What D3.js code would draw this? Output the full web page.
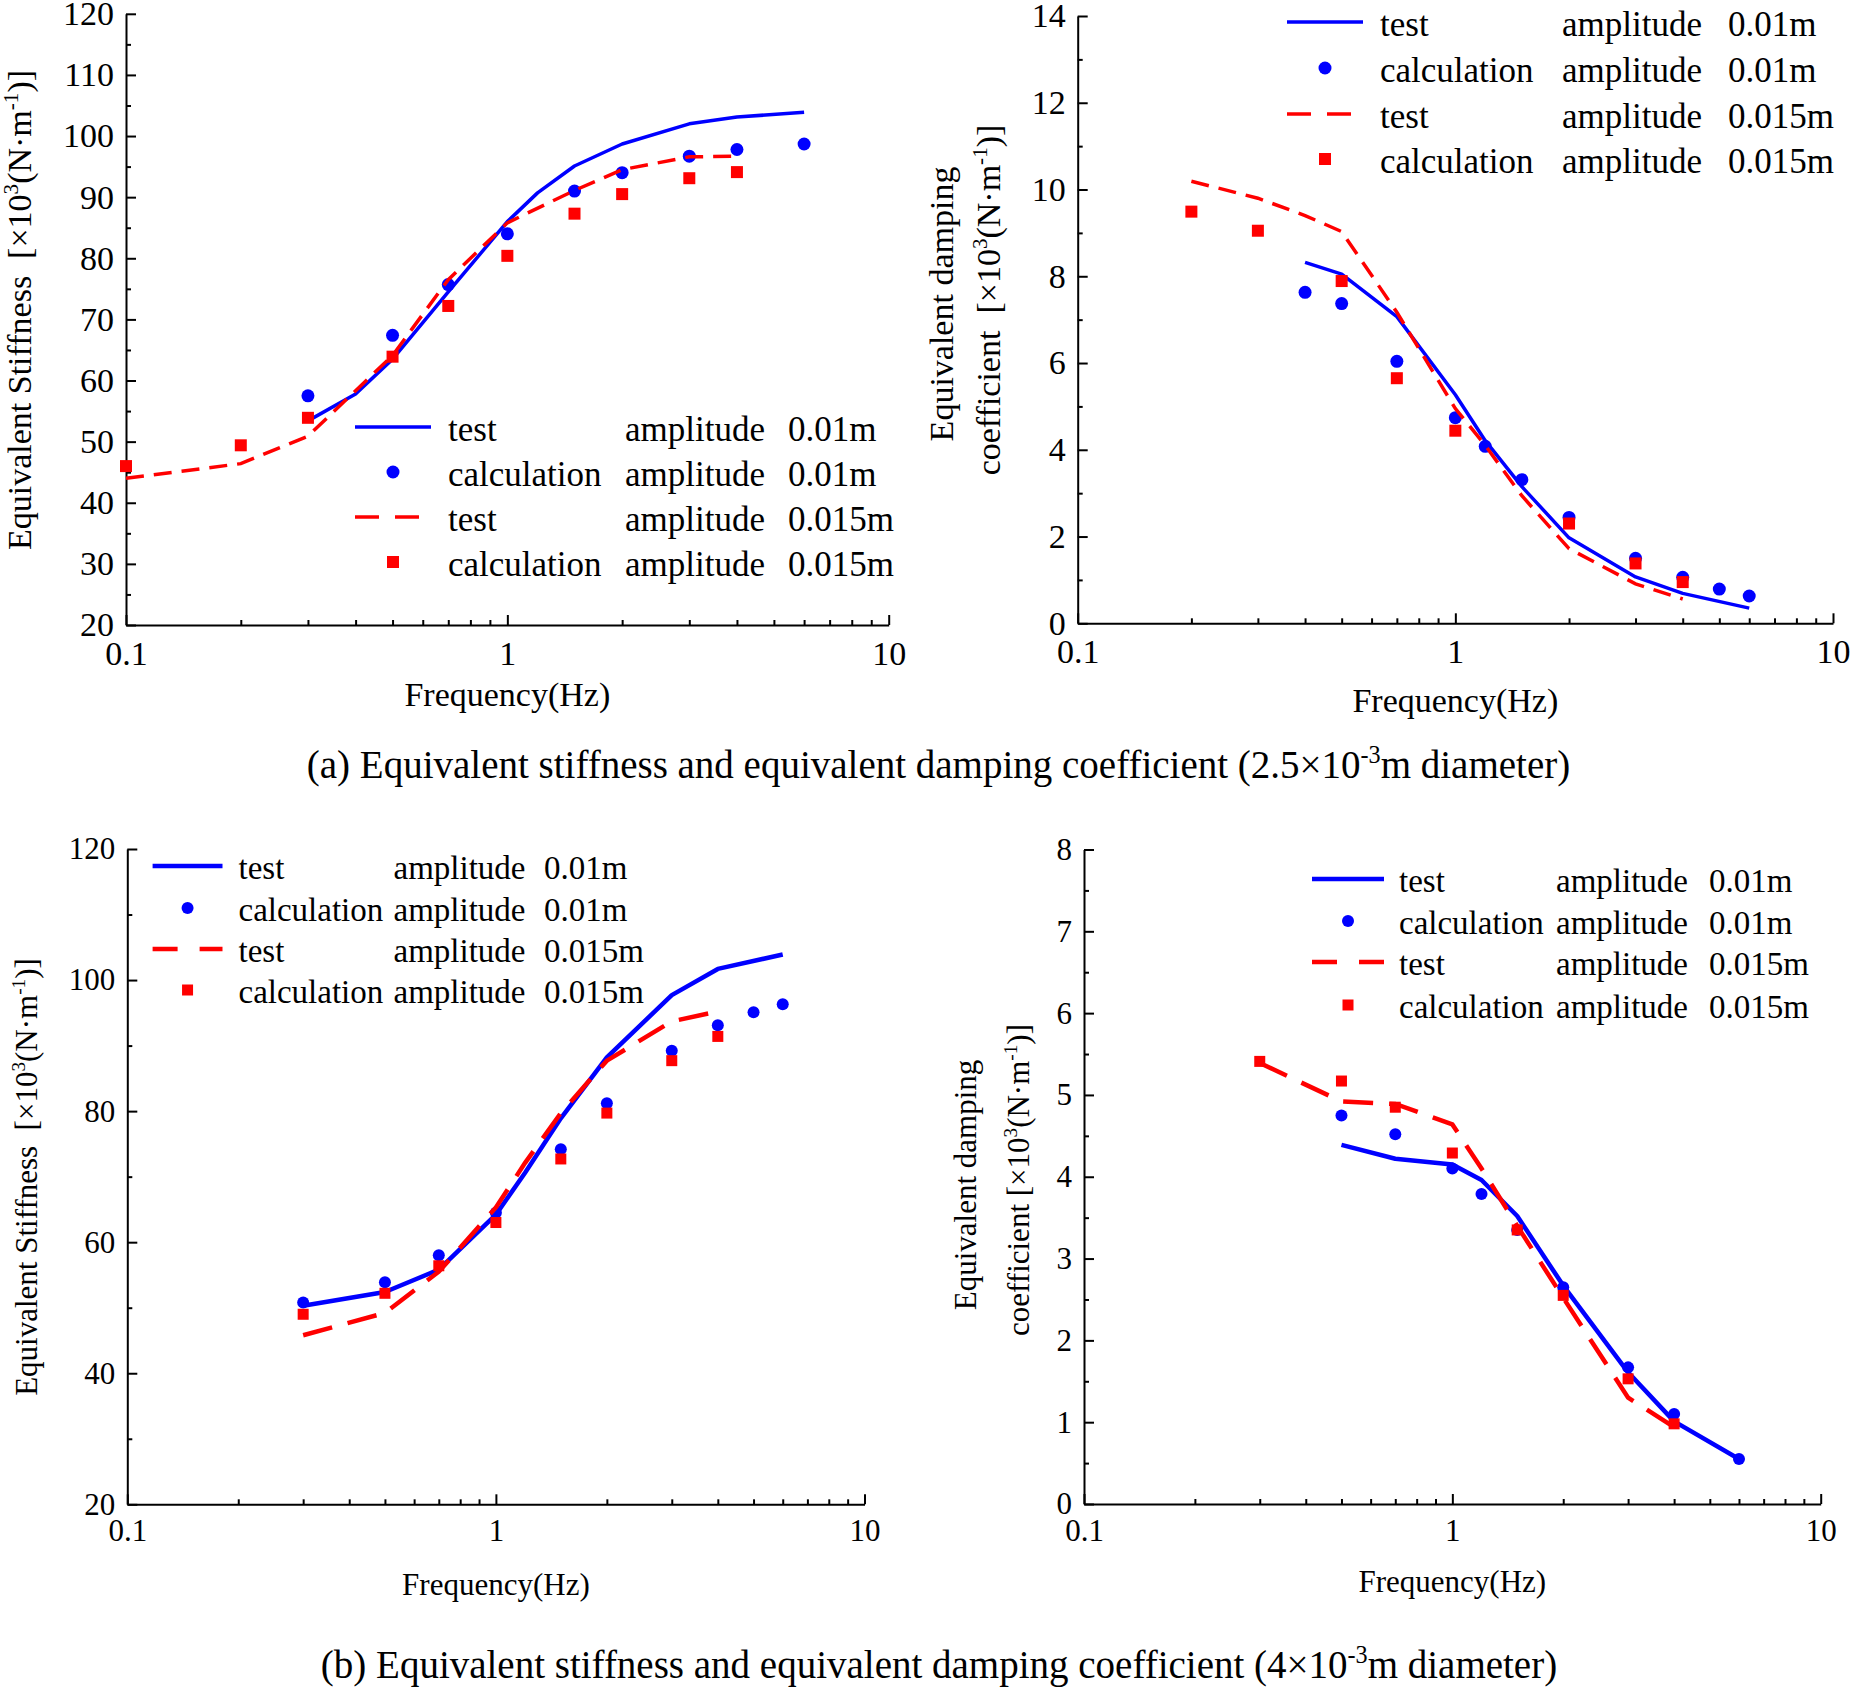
<!DOCTYPE html>
<html>
<head>
<meta charset="utf-8">
<script src="https://cdn.jsdelivr.net/npm/d3@7"></script>
<style>
  body { margin: 0; background: #fff; }
  svg { display: block; }
</style>
</head>
<body>
<div class="canvas"></div>
<script>
/**
 * Data
 */
const xMajorTicks = [0.1, 1, 10]
const xMinorTicks = [0.2, 0.3, 0.4, 0.5, 0.6, 0.7, 0.8, 0.9, 2, 3, 4, 5, 6, 7, 8, 9]

const legendKind = ["test", "calculation", "test", "calculation"]
const legendAmp = ["0.01m", "0.01m", "0.015m", "0.015m"]

// (a) stiffness, 2.5e-3 m
const aK_test01_f = [0.3, 0.4, 0.5, 0.7, 1, 1.2, 1.5, 2, 3, 4, 6]
const aK_test01 = [53.4, 57.8, 63.5, 74.5, 86.0, 90.7, 95.1, 98.7, 102.0, 103.1, 103.9]
const aK_calc01_f = [0.3, 0.5, 0.7, 1, 1.5, 2, 3, 4, 6]
const aK_calc01 = [57.5, 67.4, 75.7, 84.0, 91.0, 94.0, 96.7, 97.8, 98.7]
const aK_test015_f = [0.1, 0.2, 0.3, 0.5, 0.7, 1, 1.5, 2, 3, 4]
const aK_test015 = [44.0, 46.4, 50.9, 64.1, 76.5, 85.8, 91.1, 94.5, 96.6, 96.7]
const aK_calc015_f = [0.1, 0.2, 0.3, 0.5, 0.7, 1, 1.5, 2, 3, 4]
const aK_calc015 = [46.0, 49.4, 53.9, 63.9, 72.2, 80.4, 87.3, 90.5, 93.1, 94.1]

// (a) damping, 2.5e-3 m
const aC_test01_f = [0.4, 0.5, 0.7, 1, 1.2, 1.5, 2, 3, 4, 6]
const aC_test01 = [8.32, 8.05, 7.07, 5.27, 4.21, 3.15, 1.97, 1.07, 0.69, 0.35]
const aC_calc01_f = [0.4, 0.5, 0.7, 1, 1.2, 1.5, 2, 3, 4, 5, 6]
const aC_calc01 = [7.63, 7.37, 6.04, 4.74, 4.08, 3.31, 2.44, 1.50, 1.06, 0.79, 0.63]
const aC_test015_f = [0.2, 0.3, 0.4, 0.5, 0.7, 1, 1.2, 1.5, 2, 3, 4]
const aC_test015 = [10.19, 9.80, 9.40, 9.03, 7.17, 4.95, 4.10, 2.94, 1.72, 0.91, 0.56]
const aC_calc015_f = [0.2, 0.3, 0.5, 0.7, 1, 2, 3, 4]
const aC_calc015 = [9.49, 9.05, 7.89, 5.65, 4.44, 2.30, 1.38, 0.95]

// (b) stiffness, 4e-3 m
const bK_test01_f = [0.3, 0.5, 0.7, 1, 1.2, 1.5, 2, 3, 4, 6]
const bK_test01 = [50.3, 52.4, 55.8, 64.2, 70.6, 78.9, 88.2, 97.7, 101.7, 103.9]
const bK_calc01_f = [0.3, 0.5, 0.7, 1, 1.5, 2, 3, 4, 5, 6]
const bK_calc01 = [50.8, 53.9, 58.0, 64.5, 74.2, 81.2, 89.2, 93.1, 95.1, 96.3]
const bK_test015_f = [0.3, 0.5, 0.7, 1, 1.2, 1.5, 2, 3, 4]
const bK_test015 = [45.8, 49.2, 55.5, 65.3, 72.1, 79.7, 87.7, 93.7, 95.2]
const bK_calc015_f = [0.3, 0.5, 0.7, 1, 1.5, 2, 3, 4]
const bK_calc015 = [49.0, 52.2, 56.4, 63.0, 72.7, 79.7, 87.7, 91.4]

// (b) damping, 4e-3 m
const bC_test01_f = [0.5, 0.7, 1, 1.2, 1.5, 2, 3, 4, 6]
const bC_test01 = [4.39, 4.22, 4.15, 3.96, 3.52, 2.67, 1.61, 1.01, 0.55]
const bC_calc01_f = [0.5, 0.7, 1, 1.2, 1.5, 2, 3, 4, 6]
const bC_calc01 = [4.75, 4.52, 4.10, 3.79, 3.35, 2.65, 1.67, 1.10, 0.55]
const bC_test015_f = [0.3, 0.5, 0.7, 1, 1.2, 1.5, 2, 3, 4]
const bC_test015 = [5.39, 4.92, 4.89, 4.64, 4.10, 3.40, 2.52, 1.30, 0.94]
const bC_calc015_f = [0.3, 0.5, 0.7, 1, 1.5, 2, 3, 4]
const bC_calc015 = [5.41, 5.17, 4.85, 4.29, 3.35, 2.55, 1.53, 0.98]

/**
 * Page
 */
const FONT = '"Liberation Serif", "Times New Roman", serif'
const BLUE = "#0000ff"
const RED = "#ff0000"

const svg = d3.select(".canvas")
    .append("svg")
    .attr("width", 1850)
    .attr("height", 1689)
    .style("font-family", FONT)

// write text with superscript parts: parts = [[str, isSup], ...]
const richText = (sel, parts, fs) => {
    let up = false
    parts.forEach(([s, sup]) => {
        const t = sel.append("tspan").text(s)
        if (sup && !up) { t.attr("dy", -fs * 0.38).attr("font-size", fs * 0.62); up = true }
        else if (sup) { t.attr("font-size", fs * 0.62) }
        else if (up) { t.attr("dy", fs * 0.38); up = false }
    })
}

const unitParts = [["[×10", false], ["3", true], ["(N·m", false], ["-1", true], [")]", false]]

/**
 * One panel
 */
const drawPanel = (p) => {
    const x = d3.scaleLog().domain([0.1, 10]).range([p.left, p.right])
    const y = d3.scaleLinear().domain(p.yDomain).range([p.bottom, p.top])
    const g = svg.append("g")

    // minor ticks first, then major with labels
    g.append("g")
        .attr("transform", `translate(0,${p.bottom})`)
        .call(d3.axisBottom(x).tickValues(xMinorTicks).tickSizeInner(-5).tickSizeOuter(0).tickFormat(""))
        .call(s => s.select(".domain").remove())
    g.append("g")
        .attr("transform", `translate(${p.left},0)`)
        .call(d3.axisLeft(y).tickValues(p.yMinor).tickSizeInner(-5).tickSizeOuter(0).tickFormat(""))
        .call(s => s.select(".domain").remove())

    const xAxis = g.append("g")
        .attr("transform", `translate(0,${p.bottom})`)
        .call(d3.axisBottom(x).tickValues(xMajorTicks).tickSizeInner(-10).tickSizeOuter(0)
            .tickPadding(p.xPad).tickFormat(d => d))
    const yAxis = g.append("g")
        .attr("transform", `translate(${p.left},0)`)
        .call(d3.axisLeft(y).tickValues(p.yMajor).tickSizeInner(-10).tickSizeOuter(0)
            .tickPadding(12).tickFormat(d => d))

    ;[xAxis, yAxis].forEach(a => {
        a.attr("font-family", FONT).attr("font-size", p.tickFs)
        a.selectAll("line, path").attr("stroke", "#000").attr("stroke-width", 2)
        a.selectAll("text").attr("fill", "#000")
    })
    g.selectAll("line").attr("stroke-width", 2)

    // axis titles
    g.append("text")
        .attr("x", (p.left + p.right) / 2)
        .attr("y", p.xTitleY)
        .attr("text-anchor", "middle")
        .attr("font-size", p.titleFs)
        .text("Frequency(Hz)")

    p.yTitle.forEach(t => {
        const txt = g.append("text")
            .attr("transform", `translate(${t.x},${t.cy}) rotate(-90)`)
            .attr("text-anchor", "middle")
            .attr("font-size", p.titleFs)
        richText(txt, t.parts, p.titleFs)
    })

    // series
    const line = d3.line().x(d => x(d[0])).y(d => y(d[1]))
    const [s1, s2, s3, s4] = p.series

    g.append("path")
        .attr("d", line(d3.zip(s1.f, s1.v)))
        .attr("fill", "none").attr("stroke", BLUE).attr("stroke-width", p.lw)
        .attr("stroke-linejoin", "round")
    g.selectAll(".dot")
        .data(d3.zip(s2.f, s2.v))
        .enter().append("circle")
        .attr("cx", d => x(d[0])).attr("cy", d => y(d[1]))
        .attr("r", p.dotR).attr("fill", BLUE)
    g.append("path")
        .attr("d", line(d3.zip(s3.f, s3.v)))
        .attr("fill", "none").attr("stroke", RED).attr("stroke-width", p.lw)
        .attr("stroke-dasharray", p.dash)
    g.selectAll(".sq")
        .data(d3.zip(s4.f, s4.v))
        .enter().append("rect")
        .attr("x", d => x(d[0]) - p.sq / 2).attr("y", d => y(d[1]) - p.sq / 2)
        .attr("width", p.sq).attr("height", p.sq).attr("fill", RED)

    // legend
    const L = p.legend
    legendKind.forEach((k, i) => {
        const cy = L.rows[i]
        if (i === 0 || i === 2) {
            g.append("line")
                .attr("x1", L.x0).attr("x2", L.x1).attr("y1", cy).attr("y2", cy)
                .attr("stroke", i === 0 ? BLUE : RED).attr("stroke-width", p.lw)
                .attr("stroke-dasharray", i === 2 ? L.dash : null)
        } else if (i === 1) {
            g.append("circle").attr("cx", (L.x0 + L.x1) / 2).attr("cy", cy)
                .attr("r", p.dotR).attr("fill", BLUE)
        } else {
            g.append("rect").attr("x", (L.x0 + L.x1) / 2 - p.sq / 2).attr("y", cy - p.sq / 2)
                .attr("width", p.sq).attr("height", p.sq).attr("fill", RED)
        }
        const by = cy + L.base
        g.append("text").attr("x", L.tx).attr("y", by).attr("font-size", L.fs).text(k)
        g.append("text").attr("x", L.ax).attr("y", by).attr("font-size", L.fs).text("amplitude")
        g.append("text").attr("x", L.vx).attr("y", by).attr("font-size", L.fs).text(legendAmp[i])
    })
}

/**
 * Panels
 */
drawPanel({
    left: 126, right: 888.7, bottom: 625, top: 13.8,
    yDomain: [20, 120], yMajor: d3.range(20, 121, 10), yMinor: d3.range(25, 120, 10),
    tickFs: 34, titleFs: 34, xPad: 16, xTitleY: 706, lw: 3.5, dotR: 6.5, sq: 12, dash: "18,10",
    yTitle: [{x: 31, cy: 310, parts: [["Equivalent Stiffness\u00a0\u00a0", false]].concat(unitParts)}],
    series: [
        {f: aK_test01_f, v: aK_test01}, {f: aK_calc01_f, v: aK_calc01},
        {f: aK_test015_f, v: aK_test015}, {f: aK_calc015_f, v: aK_calc015}],
    legend: {x0: 355, x1: 431, rows: [427, 472, 517, 562], base: 14, fs: 35,
        tx: 448, ax: 625, vx: 788, dash: "24,16"}
})

drawPanel({
    left: 1077.7, right: 1833, bottom: 623.3, top: 16,
    yDomain: [0, 14], yMajor: d3.range(0, 15, 2), yMinor: d3.range(1, 14, 2),
    tickFs: 34, titleFs: 34, xPad: 16, xTitleY: 712, lw: 3.5, dotR: 6.5, sq: 12, dash: "18,10",
    yTitle: [
        {x: 953, cy: 304, parts: [["Equivalent damping", false]]},
        {x: 1000, cy: 300, parts: [["coefficient\u00a0\u00a0", false]].concat(unitParts)}],
    series: [
        {f: aC_test01_f, v: aC_test01}, {f: aC_calc01_f, v: aC_calc01},
        {f: aC_test015_f, v: aC_test015}, {f: aC_calc015_f, v: aC_calc015}],
    legend: {x0: 1287, x1: 1363, rows: [22, 68, 114, 159], base: 14, fs: 35,
        tx: 1380, ax: 1562, vx: 1728, dash: "24,16"}
})

drawPanel({
    left: 127.3, right: 864.5, bottom: 1504.3, top: 849,
    yDomain: [20, 120], yMajor: d3.range(20, 121, 20), yMinor: d3.range(30, 120, 20),
    tickFs: 31, titleFs: 31, xPad: 15, xTitleY: 1595, lw: 4.5, dotR: 6, sq: 11, dash: "30,16",
    yTitle: [{x: 37, cy: 1177, parts: [["Equivalent Stiffness\u00a0\u00a0", false]].concat(unitParts)}],
    series: [
        {f: bK_test01_f, v: bK_test01}, {f: bK_calc01_f, v: bK_calc01},
        {f: bK_test015_f, v: bK_test015}, {f: bK_calc015_f, v: bK_calc015}],
    legend: {x0: 152.6, x1: 222.5, rows: [866, 908, 949, 990], base: 13, fs: 33,
        tx: 238.5, ax: 393.5, vx: 544, dash: "25,22"}
})

drawPanel({
    left: 1084, right: 1820.7, bottom: 1504, top: 849.5,
    yDomain: [0, 8], yMajor: d3.range(0, 9, 1), yMinor: d3.range(0.5, 8, 1),
    tickFs: 31, titleFs: 31, xPad: 15, xTitleY: 1592, lw: 4.5, dotR: 6, sq: 11, dash: "30,16",
    yTitle: [
        {x: 976, cy: 1185, parts: [["Equivalent damping", false]]},
        {x: 1029, cy: 1180, parts: [["coefficient ", false]].concat(unitParts)}],
    series: [
        {f: bC_test01_f, v: bC_test01}, {f: bC_calc01_f, v: bC_calc01},
        {f: bC_test015_f, v: bC_test015}, {f: bC_calc015_f, v: bC_calc015}],
    legend: {x0: 1312, x1: 1384, rows: [879, 921, 962, 1005], base: 13, fs: 33,
        tx: 1399, ax: 1556, vx: 1709, dash: "25,22"}
})

/**
 * Captions
 */
const capFs = 39
const capA = svg.append("text").attr("x", 938.5).attr("y", 778)
    .attr("text-anchor", "middle").attr("font-size", capFs)
richText(capA, [["(a) Equivalent stiffness and equivalent damping coefficient (2.5×10", false],
    ["-3", true], ["m diameter)", false]], capFs)

const capB = svg.append("text").attr("x", 939).attr("y", 1678)
    .attr("text-anchor", "middle").attr("font-size", capFs)
richText(capB, [["(b) Equivalent stiffness and equivalent damping coefficient (4×10", false],
    ["-3", true], ["m diameter)", false]], capFs)
</script>
</body>
</html>
